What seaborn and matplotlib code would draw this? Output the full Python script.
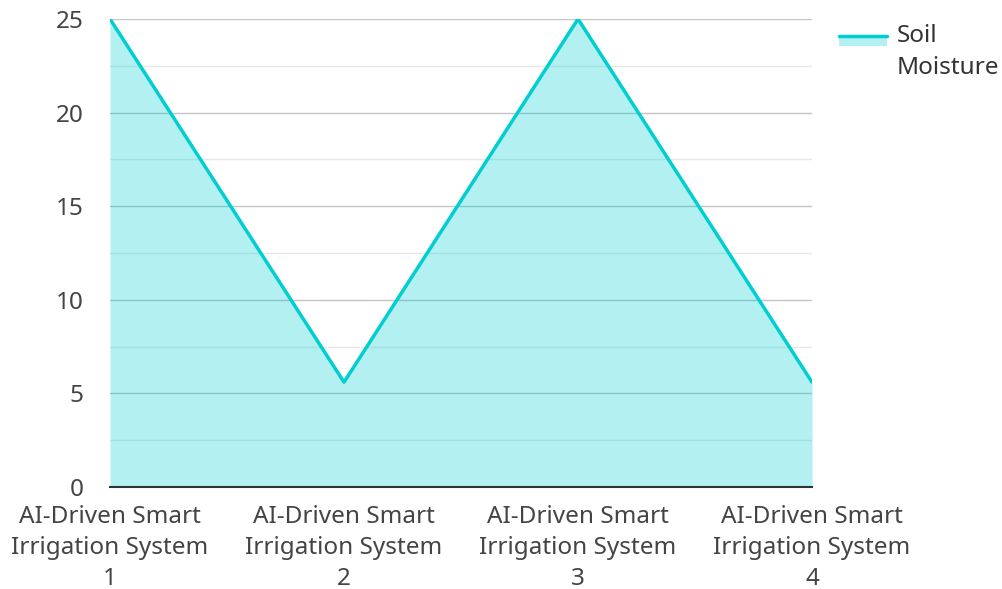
import pandas as pd
import seaborn as sns
import matplotlib.pyplot as plt
from matplotlib.patches import Rectangle
from matplotlib.lines import Line2D
from matplotlib.legend_handler import HandlerBase
from matplotlib.ticker import MultipleLocator

systems = ['AI-Driven Smart\nIrrigation System\n1', 'AI-Driven Smart\nIrrigation System\n2',
           'AI-Driven Smart\nIrrigation System\n3', 'AI-Driven Smart\nIrrigation System\n4']
soil_moisture = [25, 5.6, 25, 5.6]

df = pd.DataFrame({'system': systems, 'moisture': soil_moisture})
df['pos'] = range(len(df))

sns.set_style('white')
plt.rcParams['font.family'] = ['Noto Sans', 'DejaVu Sans']

color = '#00CED1'
fs = 17.5


class AreaHandler(HandlerBase):
    # fill rectangle with the line along its top edge, lifted to the first text line
    def create_artists(self, legend, orig, xd, yd, w, h, fontsize, trans):
        top = yd + h * 0.5 + 11.5
        rect = Rectangle((xd, top - 7), w, 7,
                         facecolor=color, alpha=0.3, edgecolor='none', transform=trans)
        line = Line2D([xd, xd + w], [top, top], color=color, linewidth=2.5, transform=trans)
        return [rect, line]


fig = plt.figure(figsize=(10.02, 5.89), dpi=100)
ax = fig.add_axes([110 / 1002, 1 - 487 / 589, (812 - 110) / 1002, (487 - 19) / 589])

ax.fill_between(df['pos'], df['moisture'], color=color, alpha=0.3, linewidth=0, zorder=1)
sns.lineplot(data=df, x='pos', y='moisture', color=color, linewidth=2.5, ax=ax, zorder=3)

ax.set_xlim(0, len(df) - 1)
ax.set_ylim(0, 25)
ax.set_xticks(df['pos'])
ax.set_xticklabels(df['system'], linespacing=1.38)
ax.yaxis.set_major_locator(MultipleLocator(5))
ax.yaxis.set_minor_locator(MultipleLocator(2.5))
ax.set_axisbelow(True)
ax.grid(True, which='major', axis='y', color='#c4c4c4', linewidth=1)
ax.grid(True, which='minor', axis='y', color='#e8e8e8', linewidth=1)
ax.tick_params(axis='both', which='both', length=0, labelsize=fs, colors='#444444')
ax.tick_params(axis='y', pad=19)
ax.tick_params(axis='x', pad=13)
ax.set_xlabel('')
ax.set_ylabel('')
for s in ['top', 'right', 'left']:
    ax.spines[s].set_visible(False)
ax.spines['bottom'].set_color('#333333')
ax.spines['bottom'].set_linewidth(1.5)
ax.spines['bottom'].set_zorder(4)

proxy = Line2D([], [], color=color)
leg = fig.legend([proxy], ['Soil\nMoisture'], loc='upper left',
                 handler_map={Line2D: AreaHandler()},
                 bbox_to_anchor=(829 / 1002, 1 - 14 / 589), frameon=False,
                 fontsize=fs, handlelength=2.0, handletextpad=0.4,
                 borderaxespad=0)
for t in leg.get_texts():
    t.set_color('#333333')
    t.set_linespacing(1.45)

fig.savefig('out.png', dpi=100)
